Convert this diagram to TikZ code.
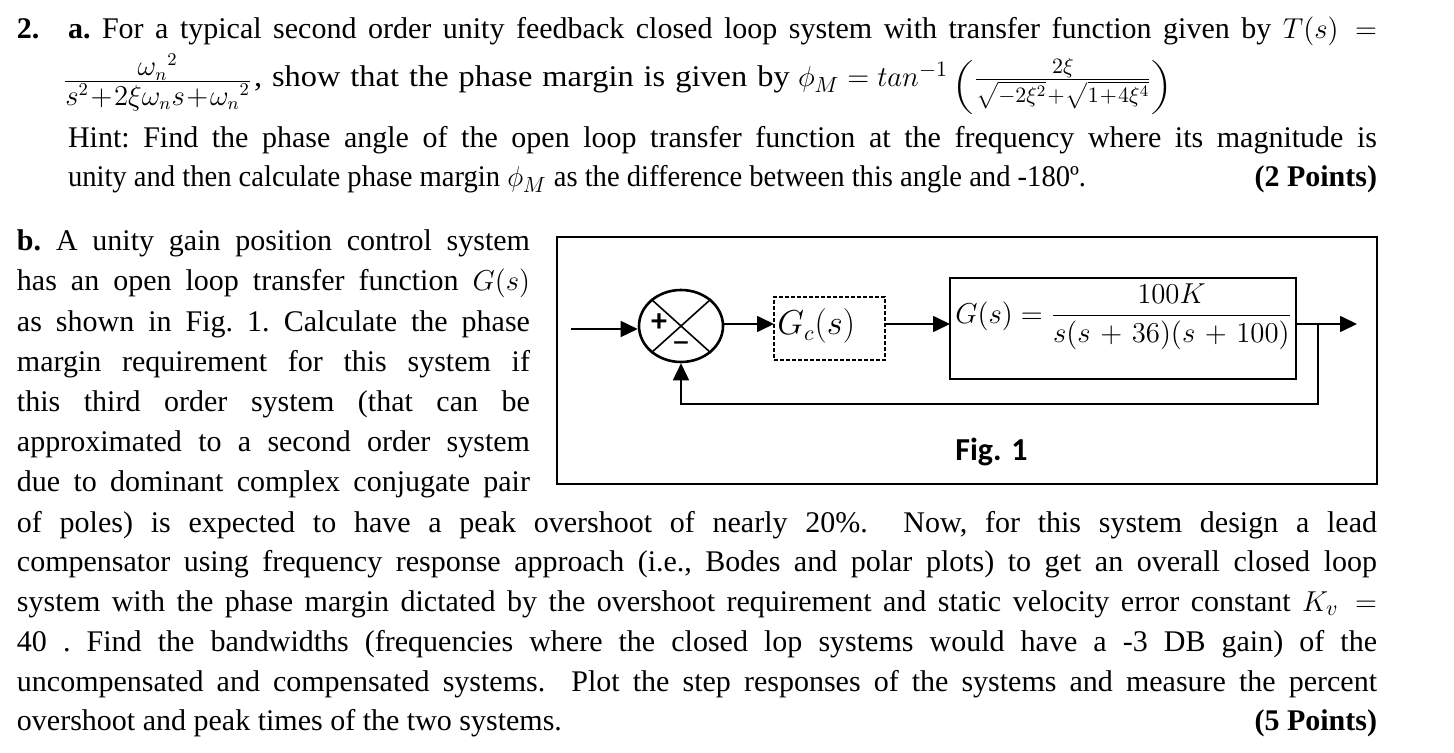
\documentclass[tikz,border=0pt]{standalone}
\usepackage{amsmath}
\usepackage{fontspec}
\setmainfont{Liberation Serif}
\newfontfamily\figfont{Carlito}
\usetikzlibrary{arrows.meta,shapes.geometric}
\newcommand{\fs}[1]{\fontsize{#1}{#1}\selectfont}
\tikzset{
 txt/.style={anchor=base west, inner sep=0pt, outer sep=0pt, font=\fontsize{15}{18}\selectfont\frenchspacing},
 txtr/.style={txt, anchor=base east},
 sig/.style={line width=0.8pt, -{Triangle[length=8.5pt,width=8pt]}},
 wire/.style={line width=0.8pt},
 blk/.style={draw, line width=0.9pt, inner sep=0pt, outer sep=0pt},
}
\newcommand{\jl}[2]{\makebox[#1][s]{#2}}
\newcommand{\lpar}{\raisebox{-3pt}{\scalebox{1}[0.78]{$\biggl($}}}
\newcommand{\rpar}{\raisebox{-3pt}{\scalebox{1}[0.78]{$\biggr)$}}}
\begin{document}
\begin{tikzpicture}[x=0.5pt,y=-0.5pt]
\useasboundingbox (0,0) rectangle (1454,753);
\fill[white] (0,0) rectangle (1454,753);

% ---------- part a ----------
\node[txt] (q2) at (17,39) {\textbf{2.}};
\node[txt] (a1) at (68,39) {\jl{654.5pt}{\textbf{a.} For a typical second order unity feedback closed loop system with transfer function given by $T(s) =$}};
\node[txt] (a2f) at (63,89) {$\frac{\mbox{\fs{13.3}$\medmuskip=1mu {\omega_n}^2$}}{\mbox{\fs{13.3}$\medmuskip=1mu s^2+2\xi\omega_n s+{\omega_n}^2$}}$};
\node[txt] (a2t) at (254,87) {\scalebox{1.08}[1]{\jl{248pt}{, show that the phase margin is given by}}};
\node[txt] (a2m) at (798,87) {$\phi_M = tan^{-1}\,\lpar\frac{\mbox{\fs{11.3}$2\xi$}}{\mbox{\fs{11.3}$\medmuskip=1mu\sqrt{-2\xi^2}+\sqrt{1+4\xi^4}$}}\rpar$};
\node[txt] (a3) at (68,148) {\jl{654.5pt}{Hint: Find the phase angle of the open loop transfer function at the frequency where its magnitude is}};
\node[txt] (a4) at (68,187) {\scalebox{0.953}[1]{unity and then calculate phase margin $\phi_M$ as the difference between this angle and -180º.}};
\node[txtr] (p2) at (1377,187) {\textbf{(2 Points)}};

% ---------- part b ----------
\node[txt] (b1) at (17,251) {\jl{256.5pt}{\textbf{b.} A unity gain position control system}};
\node[txt] (b2) at (17,291) {\jl{256.5pt}{has an open loop transfer function $G(s)$}};
\node[txt] (b3) at (17,331) {\jl{256.5pt}{as shown in Fig. 1. Calculate the phase}};
\node[txt] (b4) at (17,371) {\jl{256.5pt}{margin requirement for this system if}};
\node[txt] (b5) at (17,411) {\jl{256.5pt}{this third order system (that can be}};
\node[txt] (b6) at (17,451) {\jl{256.5pt}{approximated to a second order system}};
\node[txt] (b7) at (17,491) {\jl{256.5pt}{due to dominant complex conjugate pair}};
\node[txt] (b8) at (17,532) {\jl{680pt}{of poles) is expected to have a peak overshoot of nearly 20\%.\ \ Now, for this system design a lead}};
\node[txt] (b9) at (17,571) {\jl{680pt}{compensator using frequency response approach (i.e., Bodes and polar plots) to get an overall closed loop}};
\node[txt] (b10) at (17,611) {\jl{680pt}{system with the phase margin dictated by the overshoot requirement and static velocity error constant $K_v =$}};
\node[txt] (b11) at (17,651) {\jl{680pt}{40 . Find the bandwidths (frequencies where the closed lop systems would have a -3 DB gain) of the}};
\node[txt] (b12) at (17,691) {\jl{680pt}{uncompensated and compensated systems.\ \ Plot the step responses of the systems and measure the percent}};
\node[txt] (b13) at (17,730) {overshoot and peak times of the two systems.};
\node[txtr] (p5) at (1377,730) {\textbf{(5 Points)}};

% ---------- Fig. 1 ----------
\draw[line width=1.4pt] (557,237) rectangle (1377,484);
\coordinate (r) at (0,324);
\coordinate (fb) at (0,404);
\node[draw, ellipse, line width=1.3pt, minimum width=42pt, minimum height=36pt, inner sep=0pt] (sum) at (681,326) {};
\draw[wire] (sum.42) -- (sum.222);
\draw[wire] (sum.138) -- (sum.318);
\node[inner sep=0pt, font=\figfont\bfseries\fs{16}] (plus) at (659,323) {+};
\node[inner sep=0pt, font=\figfont\fs{19}] (minus) at (681,348) {–};

\node[blk, dashed, dash pattern=on 1.8pt off 1.2pt, line width=0.6pt, minimum width=55.5pt, minimum height=31.5pt] (gc) at (829.5,328.5) {};
\node[anchor=base west, inner sep=0pt, font=\fs{16}] (gct) at (777,335) {$G_c(s)$};

\node[blk, minimum width=173pt, minimum height=50.5pt] (gbox) at (1123,328.5) {};
\node[anchor=base west, inner sep=0pt, font=\fs{14}] (gt) at (955,323) {$\medmuskip=6mu G(s) = \dfrac{100K}{s(s+36)(s+100)}$};

\coordinate (in) at (571,329);
\coordinate (out) at (1357,324);
\coordinate (br) at (1318,324);
\draw[sig] (in) -- (in -| sum.west);
\draw[sig] (sum.east |- r) -- (gc.west |- r);
\draw[sig] (gc.east |- r) -- (gbox.west |- r);
\draw[sig] (gbox.east |- r) -- (out);
\draw[sig] (br) -- (br |- fb) -- (sum.south |- fb) -- (sum.south);

\node[anchor=base west, inner sep=0pt, font=\figfont\bfseries\fs{16}] (figlab) at (955,460) {Fig. 1};
\end{tikzpicture}
\end{document}
